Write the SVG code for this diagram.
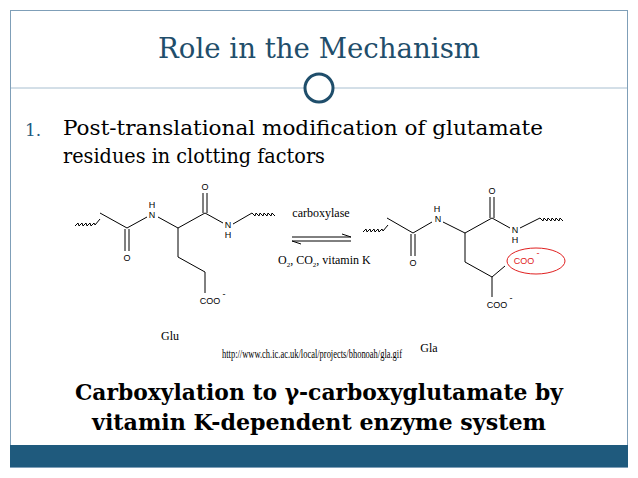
<svg xmlns="http://www.w3.org/2000/svg" width="638" height="478" viewBox="0 0 638 478">
<style>
.b{stroke:#000;stroke-width:1;fill:none}
.a{font-family:"Liberation Sans",Arial,sans-serif;font-size:9px;fill:#000;text-anchor:middle}
.t{font-family:"Liberation Serif",serif;font-size:12px;fill:#000}
</style>
<rect width="638" height="478" fill="#fff"/>
<rect x="10.5" y="10.5" width="617" height="457" fill="none" stroke="#7f9fb8"/>
<rect x="10" y="445" width="618" height="22" fill="#1f5a7d"/>
<line x1="11" y1="88" x2="304" y2="88" stroke="#a8bfd0"/>
<line x1="334" y1="88" x2="627" y2="88" stroke="#a8bfd0"/>
<circle cx="319" cy="88" r="14" fill="#fff" stroke="#1f4e6b" stroke-width="3"/>
<text x="319" y="58" text-anchor="middle" font-family="DejaVu Serif,serif" font-size="27" fill="#1f4e6b" textLength="322" lengthAdjust="spacingAndGlyphs">Role in the Mechanism</text>
<text x="25" y="136" font-family="DejaVu Serif,serif" font-size="17" fill="#1f5a7d">1.</text>
<text font-family="DejaVu Serif,serif" font-size="21" fill="#000"><tspan x="63" y="135" textLength="480" lengthAdjust="spacingAndGlyphs">Post-translational modification of glutamate</tspan><tspan x="63" y="163" textLength="262" lengthAdjust="spacingAndGlyphs">residues in clotting factors</tspan></text>
<g id="glu">
<path class="b" d="M75 226 l3 -3 l1 3 l3 -3 l1 3 l3 -3 l1 3 l3 -3 l1 3 l3 -3 l1 2 l5 -6"/>
<path class="b" d="M100 213 L127 228 M125 229 V251 M129 229 V251 M127 228 L147 217 M158 217 L178 228 L205 213 M203 213 V193 M207 213 V193 M205 213 L223 223 M178 228 V257 L205 272 V293"/>
<path class="b" d="M233 224 L252 213 l3 3 l1 -3 l3 3 l1 -3 l3 3 l1 -3 l3 3 l1 -3 l3 3 l1 -3 l3 3"/>
<text class="a" x="127" y="261">O</text>
<text class="a" x="152" y="208">H</text><text class="a" x="152" y="218">N</text>
<text class="a" x="205" y="190">O</text>
<text class="a" x="228" y="228">N</text><text class="a" x="228" y="238">H</text>
<text class="a" x="210" y="304">COO</text><text class="a" x="224" y="297" font-size="8">-</text>
<text class="t" x="170" y="340" text-anchor="middle">Glu</text>
</g>
<g id="reaction">
<path class="b" d="M292 237 H351 l-9 -3"/>
<path class="b" d="M292 241 H351 M292 241 l9 3"/>
<text class="t" x="321" y="217" text-anchor="middle" font-size="10.5">carboxylase</text>
<text class="t" x="278" y="264" font-size="10.5">O<tspan font-size="7" dy="3">2</tspan><tspan dy="-3">, CO</tspan><tspan font-size="7" dy="3">2</tspan><tspan dy="-3">, vitamin K</tspan></text>
<text class="t" x="312" y="358" text-anchor="middle" font-size="6" textLength="180" lengthAdjust="spacingAndGlyphs">http://www.ch.ic.ac.uk/local/projects/bhonoah/gla.gif</text>
</g>
<g id="gla">
<path class="b" d="M363 232 l3 -3 l1 3 l3 -3 l1 3 l3 -3 l1 3 l3 -3 l1 3 l3 -3 l1 2 l5 -6"/>
<path class="b" d="M387 218 L413 233 M411 234 V256 M415 234 V256 M413 233 L432 222 M443 222 L465 233 L492 218 M490 218 V197 M494 218 V197 M492 218 L510 228 M465 233 V262 L492 277 V297 M492 277 L505 266"/>
<path class="b" d="M520 228 L540 218 l3 3 l1 -3 l3 3 l1 -3 l3 3 l1 -3 l3 3 l1 -3 l3 3 l1 -3 l3 3"/>
<text class="a" x="413" y="266">O</text>
<text class="a" x="437" y="212">H</text><text class="a" x="438" y="222">N</text>
<text class="a" x="492" y="194">O</text>
<text class="a" x="515" y="233">N</text><text class="a" x="515" y="243">H</text>
<text class="a" x="497" y="308">COO</text><text class="a" x="511" y="301" font-size="8">-</text>
<text class="a" x="524" y="264" style="fill:#e02020">COO</text><text class="a" x="538" y="256" font-size="8" style="fill:#e02020">-</text>
<ellipse cx="536" cy="261" rx="29" ry="13" fill="none" stroke="#e02020"/>
<text class="t" x="429" y="352" text-anchor="middle">Gla</text>
</g>
<text font-family="DejaVu Serif,serif" font-weight="bold" font-size="22" fill="#000" text-anchor="middle"><tspan x="319" y="400" textLength="488" lengthAdjust="spacingAndGlyphs">Carboxylation to γ-carboxyglutamate by</tspan><tspan x="319" y="430" textLength="454" lengthAdjust="spacingAndGlyphs">vitamin K-dependent enzyme system</tspan></text>
</svg>
